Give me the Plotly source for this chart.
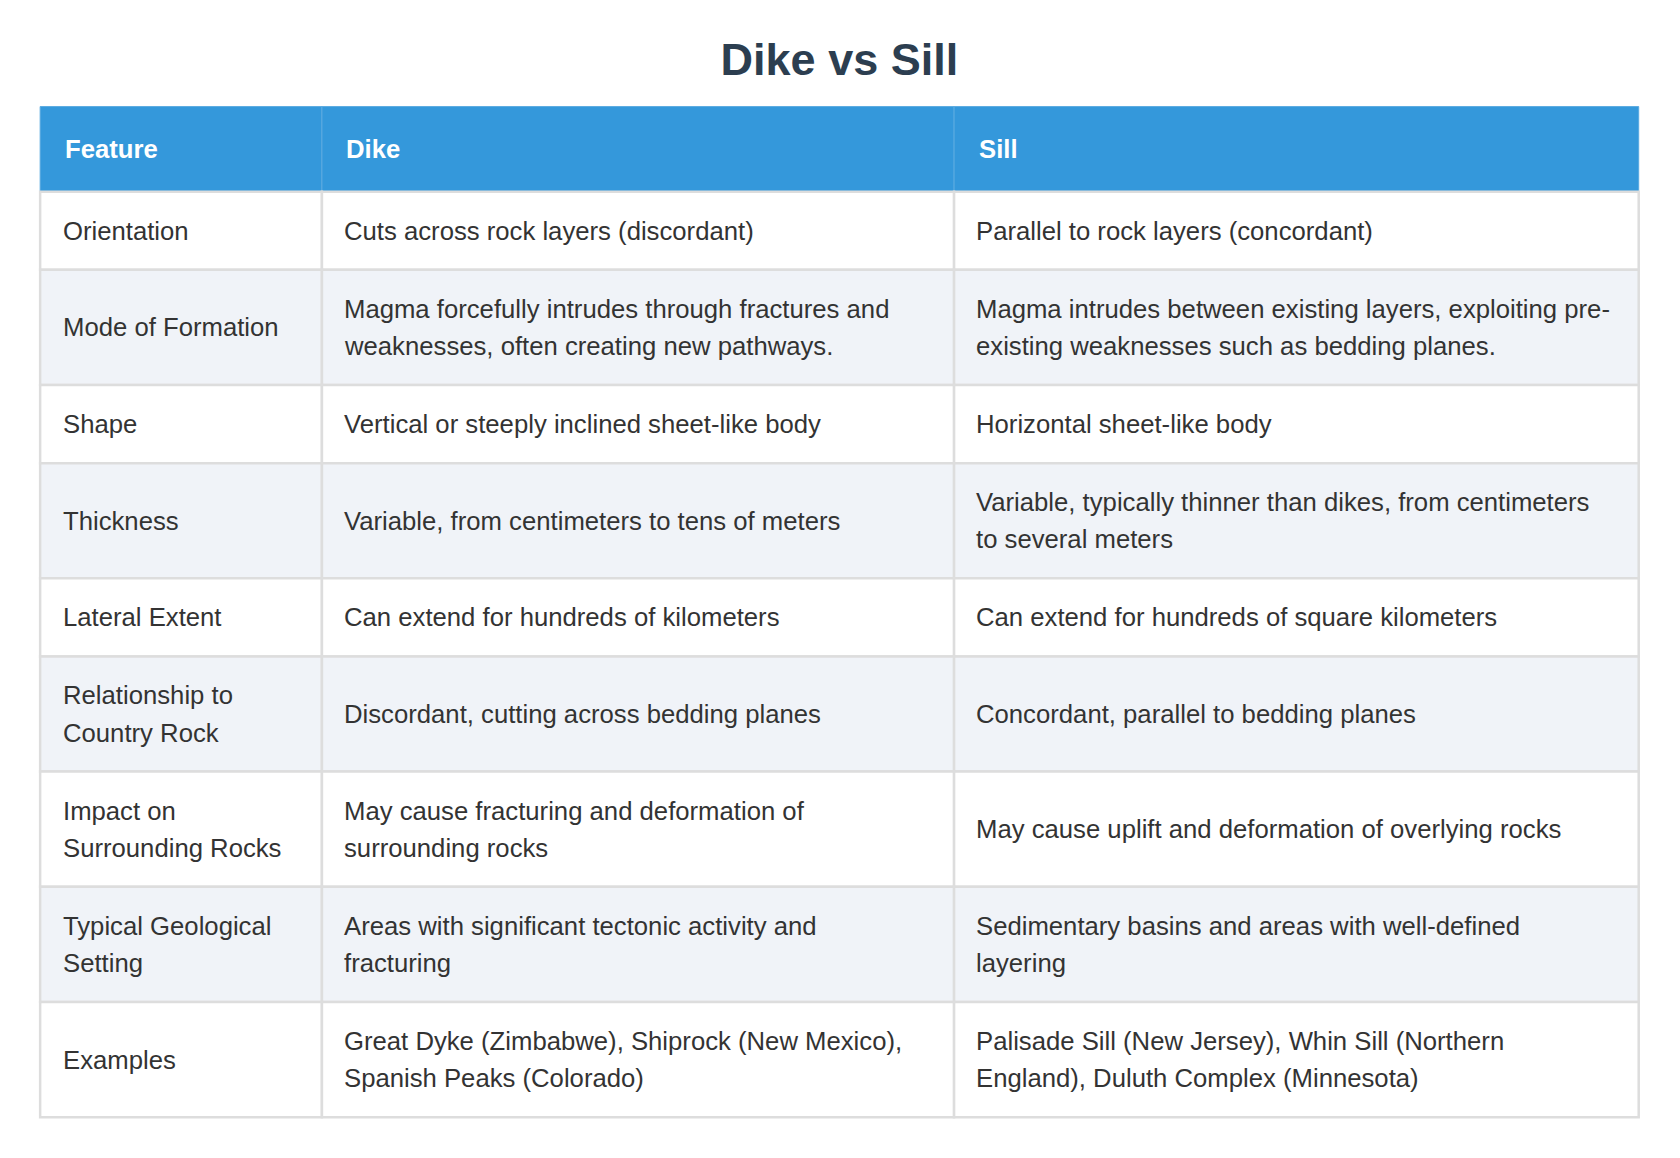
import plotly.graph_objects as go

headers = ["Feature", "Dike", "Sill"]
features = ["Orientation", "Mode of Formation", "Shape", "Thickness", "Lateral Extent",
            "Relationship to<br>Country Rock", "Impact on<br>Surrounding Rocks",
            "Typical Geological<br>Setting", "Examples"]
dike = ["Cuts across rock layers (discordant)",
        "Magma forcefully intrudes through fractures and<br>weaknesses, often creating new pathways.",
        "Vertical or steeply inclined sheet-like body",
        "Variable, from centimeters to tens of meters",
        "Can extend for hundreds of kilometers",
        "Discordant, cutting across bedding planes",
        "May cause fracturing and deformation of<br>surrounding rocks",
        "Areas with significant tectonic activity and<br>fracturing",
        "Great Dyke (Zimbabwe), Shiprock (New Mexico),<br>Spanish Peaks (Colorado)"]
sill = ["Parallel to rock layers (concordant)",
        "Magma intrudes between existing layers, exploiting pre-<br>existing weaknesses such as bedding planes.",
        "Horizontal sheet-like body",
        "Variable, typically thinner than dikes, from centimeters<br>to several meters",
        "Can extend for hundreds of square kilometers",
        "Concordant, parallel to bedding planes",
        "May cause uplift and deformation of overlying rocks",
        "Sedimentary basins and areas with well-defined<br>layering",
        "Palisade Sill (New Jersey), Whin Sill (Northern<br>England), Duluth Complex (Minnesota)"]

W, H = 1680, 1158
S = 1680 / 1568
OFF = 8

def ax(v): return (v - OFF) * S

col_x = [ax(38), ax(301), ax(891), ax(1530)]
header_top, header_h = ax(100), 79.5 * S
line_h, row_pad = 34.6 * S, 38.3 * S
font_size = 25.7
cols = [features, dike, sill]

shapes, annotations = [], []

def px(x): return x / W
def py(y): return 1 - y / H

def rect(x0, y0, x1, y1, fill, line_color, lw):
    shapes.append(dict(type="rect", xref="paper", yref="paper", x0=px(x0), x1=px(x1),
                       y0=py(y1), y1=py(y0), fillcolor=fill,
                       line=dict(color=line_color, width=lw), layer="below"))

def text_lines(txt, x, yc, bold=False, color="#333333"):
    lines = txt.split("<br>")
    n = len(lines)
    for i, ln in enumerate(lines):
        y = yc + (i - (n - 1) / 2) * line_h
        annotations.append(dict(text=f"<b>{ln}</b>" if bold else ln, x=px(x), y=py(y),
                                xref="paper", yref="paper", xanchor="left", yanchor="middle",
                                showarrow=False, font=dict(size=font_size, color=color,
                                                           family="Arial")))

for c in range(3):
    rect(col_x[c], header_top, col_x[c + 1], header_top + header_h, "#3498db", "#5aaae0", 1)
    text_lines(headers[c], col_x[c] + 21 * S, header_top + header_h / 2, bold=True, color="white")

y = header_top + header_h
for r in range(len(features)):
    n = max(len(col[r].split("<br>")) for col in cols)
    h = row_pad + line_h * n
    fill = "#ffffff" if r % 2 == 0 else "#f0f3f8"
    for c in range(3):
        rect(col_x[c], y, col_x[c + 1], y + h, fill, "#dddddd", 2.5)
        text_lines(cols[c][r], col_x[c] + 19 * S, y + h / 2)
    y += h

fig = go.Figure()
fig.update_layout(
    width=W, height=H, paper_bgcolor="white", plot_bgcolor="white",
    margin=dict(l=0, r=0, t=0, b=0),
    xaxis=dict(visible=False), yaxis=dict(visible=False),
    shapes=shapes, annotations=annotations,
    title=dict(text="<b>Dike vs Sill</b>", x=px(ax(784)), xanchor="center", y=py(ax(56)),
               yanchor="middle", font=dict(size=45, color="#2c3e50", family="Arial")),
)
fig.write_html("out.html")
